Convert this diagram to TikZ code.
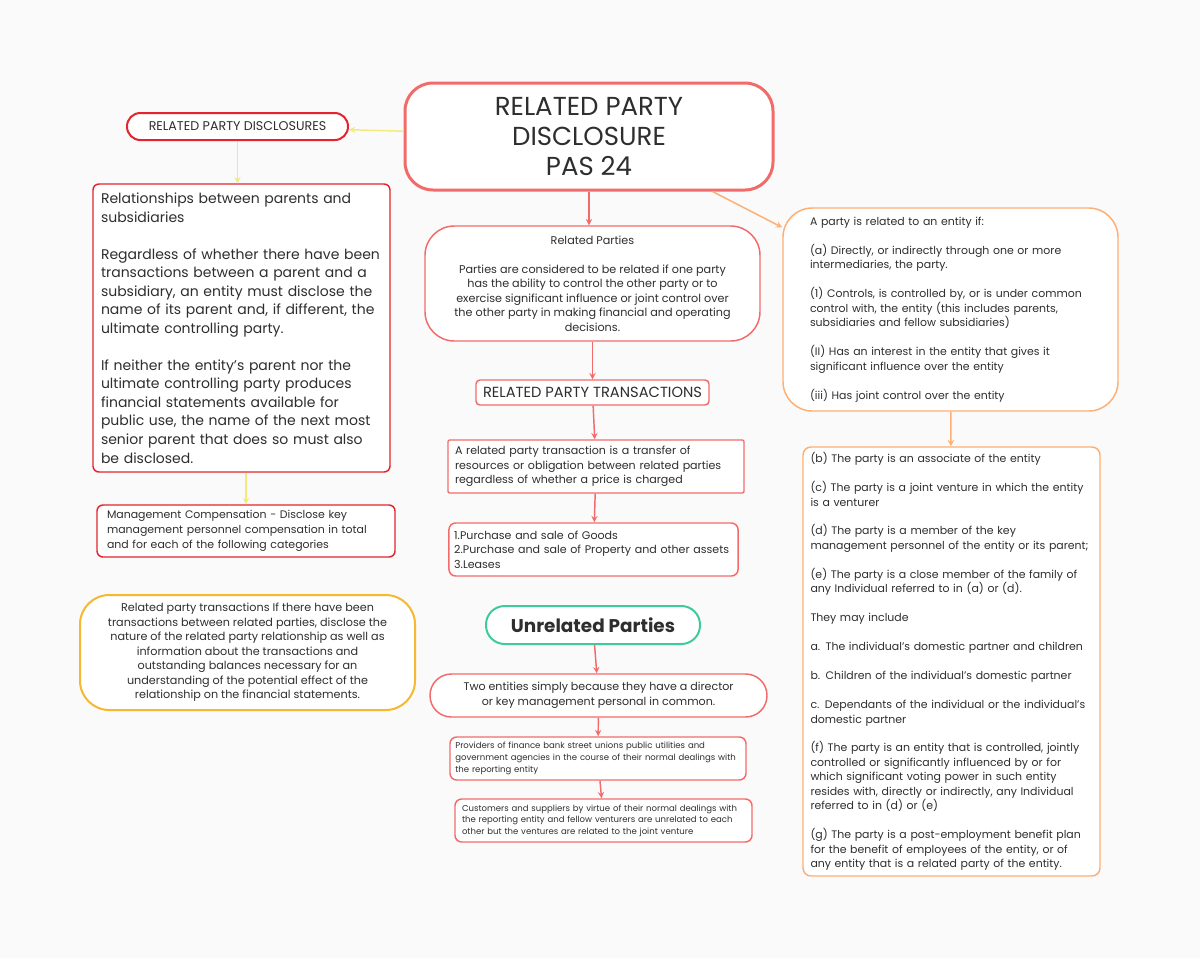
\documentclass[tikz,border=0pt]{standalone}
\usepackage{fontspec}
\setmainfont{Poppins}
\usepackage{xcolor}
\usetikzlibrary{arrows, positioning, shapes.geometric}
\definecolor{paper}{HTML}{FAFAFA}
\definecolor{ink}{HTML}{2E2E2E}
\definecolor{titlered}{HTML}{F26B6B}
\definecolor{deepred}{HTML}{E3242F}
\definecolor{salmon}{HTML}{F36A6A}
\definecolor{amber}{HTML}{F5B82E}
\definecolor{peach}{HTML}{FFAF73}
\definecolor{mint}{HTML}{3ECB9C}
\definecolor{lemon}{HTML}{F3EA7E}
\tikzset{
    >=stealth, % small filled heads
    box/.style={draw, fill=white, text=ink, line width=1.1pt, inner sep=0pt},
    textsize/.style 2 args={font=\fontsize{#1}{#2}\selectfont},
    yarrow/.style={->, draw=lemon, line width=1.1pt},
    rarrow/.style={->, draw=salmon, line width=1.1pt},
    oarrow/.style={->, draw=peach, line width=1.1pt},
}
\newcommand{\gap}{\\[\baselineskip]}

\begin{document}
\begin{tikzpicture}[x=0.75pt, y=-0.75pt]
    \fill[paper] (0,0) rectangle (1200,958);
    \useasboundingbox (0,0) rectangle (1200,958);

    % title
    \node[box, draw=titlered, line width=2.25pt, rounded corners=21pt, minimum width=276pt, minimum height=80.25pt,
        align=center, textsize={19.5}{22.5pt}] (pas) at (589,136.5) {RELATED PARTY\\DISCLOSURE\\PAS 24};

    % left column
    \node[box, draw=deepred, line width=1.5pt, rounded corners=10pt, minimum width=165.75pt, minimum height=20.25pt,
        textsize={9.5}{11pt}] (rpd) at (237.5,126.5) {RELATED PARTY DISCLOSURES};
    \node[box, draw=deepred, rounded corners=4.5pt, minimum width=222.75pt, minimum height=216pt,
        text width=210.75pt, inner xsep=6pt, align=left, textsize={10.5}{13.9pt}] (parents) at (241.5,328)
        {Relationships between parents and\\subsidiaries\gap Regardless of whether there have been\\transactions between a parent and a\\subsidiary, an entity must disclose the\\name of its parent and, if different, the\\ultimate controlling party.\gap If neither the entity's parent nor the\\ultimate controlling party produces\\financial statements available for\\public use, the name of the next most\\senior parent that does so must also\\be disclosed.};
    \node[box, draw=deepred, rounded corners=4.5pt, minimum width=223.5pt, minimum height=39pt,
        text width=208.5pt, inner xsep=7.5pt, align=left, textsize={8.2}{11.25pt}] (mgmt) at (246,531)
        {Management Compensation - Disclose key\\management personnel compensation in total\\and for each of the following categories};
    \node[box, draw=amber, line width=1.5pt, rounded corners=22pt, minimum width=251.25pt, minimum height=86.25pt,
        align=center, textsize={8.4}{10.9pt}] (rptdisc) at (247.5,652.5)
        {Related party transactions If there have been\\transactions between related parties, disclose the\\nature of the related party relationship as well as\\information about the transactions and\\outstanding balances necessary for an\\understanding of the potential effect of the\\relationship on the financial statements.};

    % middle column
    \node[box, draw=salmon, rounded corners=22pt, minimum width=251.25pt, minimum height=86.25pt,
        align=center, textsize={8.4}{10.9pt}] (relp) at (592.5,283.5)
        {Related Parties\gap Parties are considered to be related if one party\\has the ability to control the other party or to\\exercise significant influence or joint control over\\the other party in making financial and operating\\decisions.};
    \node[box, draw=salmon, rounded corners=3pt, minimum width=174.75pt, minimum height=18.75pt,
        textsize={11}{12pt}] (rpt) at (592.5,392.5) {RELATED PARTY TRANSACTIONS};
    \node[box, draw=salmon, rounded corners=1pt, minimum width=222pt, minimum height=39.75pt,
        text width=211.5pt, inner xsep=5.25pt, align=left, textsize={8.3}{10.9pt}] (rptdef) at (596,466.5)
        {A related party transaction is a transfer of\\resources or obligation between related parties\\regardless of whether a price is charged};
    \node[box, draw=salmon, rounded corners=5pt, minimum width=216.75pt, minimum height=39.75pt,
        text width=209pt, inner xsep=3.9pt, align=left, textsize={8.3}{10.9pt}] (rptlist) at (593.5,549.5)
        {1.Purchase and sale of Goods\\2.Purchase and sale of Property and other assets\\3.Leases};
    \node[box, draw=mint, line width=1.5pt, rounded corners=14pt, minimum width=160.5pt, minimum height=28.5pt,
        textsize={13.8}{15pt}] (unrel) at (593,625) {\textbf{Unrelated Parties}};
    \node[box, draw=salmon, rounded corners=16pt, minimum width=252.75pt, minimum height=32.25pt,
        align=center, textsize={8.3}{10.9pt}] (twoent) at (598.5,695.5)
        {Two entities simply because they have a director\\or key management personal in common.};
    \node[box, draw=salmon, rounded corners=5pt, minimum width=222pt, minimum height=32.25pt,
        text width=214pt, inner xsep=4pt, align=left, textsize={6.4}{9pt}] (provid) at (598,758.5)
        {Providers of finance bank street unions public utilities and\\government agencies in the course of their normal dealings with\\the reporting entity};
    \node[box, draw=salmon, rounded corners=5pt, minimum width=222.75pt, minimum height=32.25pt,
        text width=212.25pt, inner xsep=5.25pt, align=left, textsize={6.4}{8.6pt}] (custom) at (603.5,820.5)
        {Customers and suppliers by virtue of their normal dealings with\\the reporting entity and fellow venturers are unrelated to each\\other but the ventures are related to the joint venture};

    % right column
    \node[box, draw=peach, rounded corners=22pt, minimum width=251.25pt, minimum height=152.25pt,
        text width=210.75pt, inner xsep=20.25pt, align=left, textsize={8.2}{10.9pt}] (relif) at (950.5,309.5)
        {A party is related to an entity if:\gap (a) Directly, or indirectly through one or more\\intermediaries, the party.\gap (1) Controls, is controlled by, or is under common\\control with, the entity (this includes parents,\\subsidiaries and fellow subsidiaries)\gap (II) Has an interest in the entity that gives it\\significant influence over the entity\gap (iii) Has joint control over the entity};
    \node[box, draw=peach, rounded corners=6pt, minimum width=222.75pt, minimum height=321.75pt,
        text width=211.5pt, inner xsep=5.6pt, align=left, textsize={8.2}{10.85pt}] (relb) at (951.5,661.5)
        {(b) The party is an associate of the entity\gap (c) The party is a joint venture in which the entity\\is a venturer\gap (d) The party is a member of the key\\management personnel of the entity or its parent;\gap (e) The party is a close member of the family of\\any Individual referred to in (a) or (d).\gap They may include\gap a. The individual's domestic partner and children\gap b. Children of the individual's domestic partner\gap c. Dependants of the individual or the individual's\\domestic partner\gap (f) The party is an entity that is controlled, jointly\\controlled or significantly influenced by or for\\which significant voting power in such entity\\resides with, directly or indirectly, any Individual\\referred to in (d) or (e)\gap (g) The party is a post-employment benefit plan\\for the benefit of employees of the entity, or of\\any entity that is a related party of the entity.};

    % connectors
    \draw[yarrow] (pas) -- (rpd);
    \draw[yarrow] (rpd.south) -- (rpd.south |- parents.north);
    \draw[yarrow] (mgmt.north |- parents.south) -- (mgmt.north);
    \draw[rarrow] (pas.south) -- (pas.south |- relp.north);
    \draw[rarrow] (relp) -- (rpt);
    \draw[rarrow] (rpt) -- (rptdef);
    \draw[rarrow] (rptdef) -- (rptlist);
    \draw[rarrow] (unrel) -- (twoent);
    \draw[rarrow] (twoent) -- (provid);
    \draw[rarrow] (provid) -- (custom);
    \draw[oarrow] (pas.-24) -- (relif.154);
    \draw[oarrow] (relif) -- (relb);
\end{tikzpicture}
\end{document}
